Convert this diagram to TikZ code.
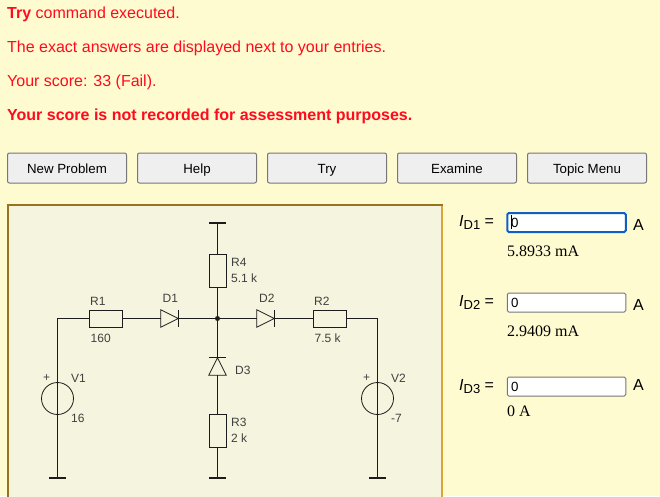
\documentclass[tikz,border=0pt]{standalone}
\usepackage{fontspec}
\setmainfont{Liberation Sans}
\newfontfamily\answerfont{Liberation Serif}
\usetikzlibrary{positioning}
\definecolor{pagebg}{HTML}{FFFBD0}
\definecolor{panelbg}{HTML}{F5F4DE}
\definecolor{paneldark}{HTML}{98741F}
\definecolor{panellight}{HTML}{DCA432}
\definecolor{msgred}{HTML}{FF0A1E}
\definecolor{btnfill}{HTML}{EFEFEF}
\definecolor{btnline}{HTML}{767676}
\definecolor{focusblue}{HTML}{0F5FC0}
\definecolor{wirecol}{HTML}{1C1C1C}
\definecolor{labelcol}{HTML}{404040}
\tikzset{
  msgtext/.style={anchor=base west,inner sep=0pt,text=msgred,font=\fontsize{16}{16}\selectfont},
  btn/.style={draw=btnline,fill=btnfill,rounded corners=2pt,line width=1pt,minimum width=119pt,minimum height=30pt,inner sep=0pt,text height=10pt,text depth=0pt,font=\fontsize{13.3}{14}\selectfont},
  entry/.style={draw=btnline,fill=white,rounded corners=1.5pt,line width=1pt,minimum width=118.5pt,minimum height=19pt,inner sep=0pt},
  entrytext/.style={anchor=base west,inner sep=0pt,font=\fontsize{13.3}{14}\selectfont},
  eqtext/.style={anchor=base west,inner sep=0pt,font=\fontsize{16}{16}\selectfont},
  anstext/.style={anchor=base west,inner sep=0pt,font=\answerfont\fontsize{16}{16}\selectfont},
  wire/.style={draw=wirecol,line width=1pt},
  thinwire/.style={draw=wirecol,line width=0.8pt},
  resbox/.style={draw=wirecol,fill=panelbg,line width=1pt,inner sep=0pt},
  horres/.style={resbox,minimum width=33pt,minimum height=17pt},
  verres/.style={resbox,minimum width=17pt,minimum height=33pt},
  diodebox/.style={inner sep=0pt,minimum width=17pt,minimum height=17pt},
  source/.style={circle,draw=wirecol,line width=0.8pt,minimum size=32pt,inner sep=0pt},
  cirtext/.style={anchor=base west,inner sep=0pt,text=labelcol,font=\fontsize{12}{12}\selectfont},
}
\newcommand{\subD}[1]{\raisebox{-3pt}{\fontsize{13}{13}\selectfont D#1}}
\begin{document}
\begin{tikzpicture}[x=1pt,y=-1pt]
  \useasboundingbox (0,0) rectangle (660,496);
  \clip (0,0) rectangle (660,496);
  \fill[pagebg] (0,0) rectangle (660,496);

  % Messages at the top
  \node[msgtext] (msgOne) at (7,18) {\textbf{Try} command executed.};
  \node[msgtext] (msgTwo) at (7,52) {The exact answers are displayed next to your entries.};
  \node[msgtext] (msgThree) at (7,86) {Your score: 33 (Fail).};
  \node[msgtext] (msgFour) at (7,120) {\textbf{Your score is not recorded for assessment purposes.}};

  % Buttons
  \node[btn] (btnNew) at (67,168) {New Problem};
  \node[btn] (btnHelp) at (197,168) {Help};
  \node[btn] (btnTry) at (327,168) {Try};
  \node[btn] (btnExamine) at (457,168) {Examine};
  \node[btn] (btnMenu) at (587,168) {Topic Menu};

  % Panel behind the circuit
  \fill[panelbg] (8,205) rectangle (442,500);
  \draw[panellight,line width=2pt] (442,204) -- (442,500);
  \draw[paneldark,line width=2pt] (8,500) -- (8,205) -- (443,205);

  % Components
  \node[horres] (rOne) at (105.5,318.5) {};
  \node[horres] (rTwo) at (329.5,318.5) {};
  \node[verres] (rFour) at (217.5,270.5) {};
  \node[verres] (rThree) at (217.5,430.5) {};
  \node[diodebox] (dOne) at (169.5,318.5) {};
  \node[diodebox] (dTwo) at (265.5,318.5) {};
  \node[diodebox] (dThree) at (217.5,366.5) {};
  \node[source] (vOne) at (57.5,398.5) {};
  \node[source] (vTwo) at (377.5,398.5) {};
  \node[circle,fill=wirecol,minimum size=5pt,inner sep=0pt] (mid) at (217.5,318.5) {};
  \coordinate (cornerOne) at (57.5,318.5);
  \coordinate (cornerTwo) at (377.5,318.5);
  \coordinate (gndOne) at (57.5,478);
  \coordinate (gndTwo) at (377.5,478);
  \coordinate (gndThree) at (217.5,478);
  \coordinate (railTop) at (217.5,223);

  % Wires
  \draw[wire] (rOne) -- (cornerOne) -- (gndOne);
  \draw[wire] (rOne) -- (dOne.west);
  \draw[wire] (dOne.east) -- (mid);
  \draw[wire] (mid) -- (dTwo.west);
  \draw[wire] (dTwo.east) -- (rTwo);
  \draw[wire] (rTwo) -- (cornerTwo) -- (gndTwo);
  \draw[wire] (railTop) -- (rFour);
  \draw[wire] (rFour) -- (mid);
  \draw[wire] (mid) -- (dThree.north);
  \draw[wire] (dThree.south) -- (rThree);
  \draw[wire] (rThree) -- (gndThree);

  % Diodes
  \draw[thinwire] (dOne.north west) -- (dOne.south west) -- (dOne.east) -- cycle;
  \draw[thinwire] (dOne.north east) -- (dOne.south east);
  \draw[thinwire] (dTwo.north west) -- (dTwo.south west) -- (dTwo.east) -- cycle;
  \draw[thinwire] (dTwo.north east) -- (dTwo.south east);
  \draw[thinwire] (dThree.south west) -- (dThree.south east) -- (dThree.north) -- cycle;
  \draw[thinwire] (dThree.north west) -- (dThree.north east);

  % Earth bars
  \draw[wire,line width=2pt] ([xshift=-8.5pt]railTop) -- ([xshift=8.5pt]railTop);
  \draw[wire,line width=2pt] ([xshift=-8.5pt]gndOne) -- ([xshift=8.5pt]gndOne);
  \draw[wire,line width=2pt] ([xshift=-8.5pt]gndTwo) -- ([xshift=8.5pt]gndTwo);
  \draw[wire,line width=2pt] ([xshift=-8.5pt]gndThree) -- ([xshift=8.5pt]gndThree);

  % Circuit labels
  \node[cirtext] (lblROne) at (90,305) {R1};
  \node[cirtext] (lblRaOne) at (90.5,342) {160};
  \node[cirtext] (lblDOne) at (162.5,302) {D1};
  \node[cirtext] (lblRFour) at (231,266) {R4};
  \node[cirtext] (lblRaFour) at (231,282) {5.1 k};
  \node[cirtext] (lblDTwo) at (259,302) {D2};
  \node[cirtext] (lblRTwo) at (314,305) {R2};
  \node[cirtext] (lblRaTwo) at (314.5,342) {7.5 k};
  \node[cirtext] (lblDThree) at (235,374) {D3};
  \node[cirtext] (lblRThree) at (231,426) {R3};
  \node[cirtext] (lblRaThree) at (231,442) {2 k};
  \node[cirtext] (lblPlusOne) at (43,381) {+};
  \node[cirtext] (lblVOne) at (71,382) {V1};
  \node[cirtext] (lblValOne) at (71,422) {16};
  \node[cirtext] (lblPlusTwo) at (363,381) {+};
  \node[cirtext] (lblVTwo) at (391,382) {V2};
  \node[cirtext] (lblValTwo) at (391,422) {-7};

  % Entries on the right
  \node[eqtext] (eqOne) at (459,226) {\textit{I}\subD{1} =};
  \node[eqtext] (eqTwo) at (459,306) {\textit{I}\subD{2} =};
  \node[eqtext] (eqThree) at (459,390) {\textit{I}\subD{3} =};
  \node[entry,draw=focusblue,line width=2pt] (fieldOne) at (566.5,222.5) {};
  \node[entry] (fieldTwo) at (566.5,302.5) {};
  \node[entry] (fieldThree) at (566.5,386.5) {};
  \node[entrytext] (valOne) at (511,227) {0};
  \node[entrytext] (valTwo) at (511,307) {0};
  \node[entrytext] (valThree) at (511,391) {0};
  \draw[black,line width=0.8pt] (511,215) -- (511,229);
  \node[eqtext] (unitOne) at (633,230) {A};
  \node[eqtext] (unitTwo) at (633,310) {A};
  \node[eqtext] (unitThree) at (633,390) {A};
  \node[anstext] (ansOne) at (507,256) {5.8933 mA};
  \node[anstext] (ansTwo) at (507,336) {2.9409 mA};
  \node[anstext] (ansThree) at (507,416) {0 A};
\end{tikzpicture}
\end{document}
